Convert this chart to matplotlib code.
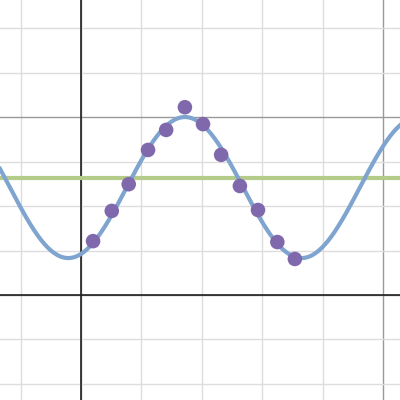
import numpy as np
import matplotlib.pyplot as plt

# measured points
point_x = [0.20, 0.51, 0.79, 1.11, 1.41, 1.72, 2.02, 2.32, 2.63, 2.93, 3.25, 3.54]
point_y = [1.21, 1.89, 2.49, 3.26, 3.71, 4.22, 3.84, 3.15, 2.45, 1.91, 1.19, 0.81]

# fitted sine model
amplitude = 1.585
midline = 2.415
period = 3.86
peak_x = 1.72
mean_level = 2.63

fig = plt.figure(figsize=(4, 4), dpi=100)
ax = fig.add_axes([0, 0, 1, 1])
xmin, xmax = -1.34, 5.28
ymin, ymax = -2.36, 6.63
ax.set_xlim(xmin, xmax)
ax.set_ylim(ymin, ymax)

# grid: minor every unit, major every 5 (x) / 4 (y)
for gx in range(-1, 6):
    ax.axvline(gx, color='#999999' if gx % 5 == 0 else '#dddddd', lw=1, zorder=0)
for gy in range(-2, 7):
    ax.axhline(gy, color='#999999' if gy % 4 == 0 else '#dddddd', lw=1, zorder=0)
ax.axvline(0, color='#222222', lw=1.2, zorder=1)
ax.axhline(0, color='#222222', lw=1.2, zorder=1)

xs = np.linspace(xmin, xmax, 600)
ys = midline + amplitude * np.cos(2 * np.pi * (xs - peak_x) / period)
ax.axhline(mean_level, color='#b4cb8a', lw=3, zorder=2)
ax.plot(xs, ys, color='#7ea4cf', lw=3, zorder=3)
ax.scatter(point_x, point_y, s=110, color='#7f68ab', zorder=4, edgecolors='none')

ax.set_xticks([])
ax.set_yticks([])
for s in ax.spines.values():
    s.set_visible(False)

fig.savefig('out.png', dpi=100)
